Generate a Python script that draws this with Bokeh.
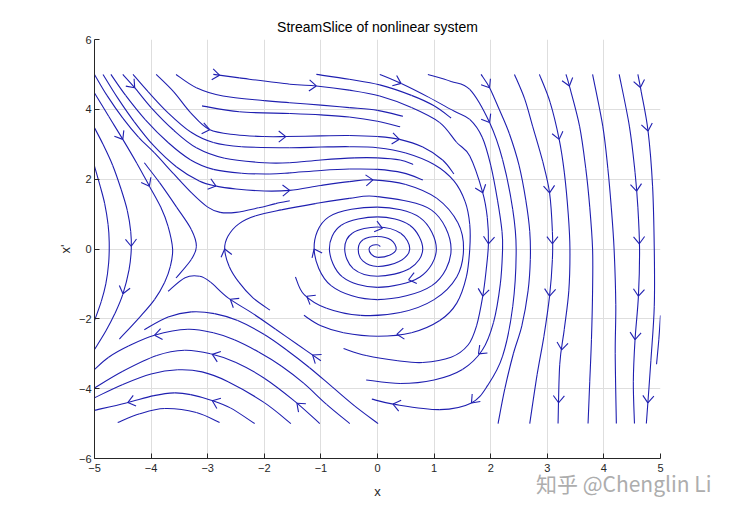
import math
from bokeh.plotting import figure
from bokeh.models import Range1d, FixedTicker, Div
from bokeh.layouts import column
from bokeh.embed import file_html
from bokeh.resources import INLINE

# ---------------- data: streamlines (flow order) ----------------
F1 = [(-5.0,2.37),(-4.90,1.8),(-4.82,1.3),(-4.76,0.7),(-4.74,0.2),(-4.75,-0.4),(-4.80,-1.0),(-4.88,-1.5),(-5.0,-2.05)]
F2 = [(-5.0,3.47),(-4.85,3.0),(-4.68,2.4),(-4.53,1.71),(-4.42,1.1),(-4.36,0.5),(-4.35,0.0),(-4.39,-0.6),(-4.5,-1.3),(-4.64,-1.85),(-4.8,-2.35),(-5.0,-2.88)]
F3 = [(-5.0,4.47),(-4.75,3.8),(-4.5,3.14),(-4.25,2.45),(-4.03,1.80),(-3.83,1.2),(-3.70,0.65),(-3.62,0.0),(-3.66,-0.5),(-3.76,-0.95),(-3.94,-1.45),(-4.2,-1.95),(-4.56,-2.58)]
SL = [(-4.12,2.47),(-3.85,1.9),(-3.55,1.2),(-3.29,0.56),(-3.20,0.08),(-3.29,-0.30),(-3.56,-0.83)]
UB = [(-5.0,5.0),(-4.78,4.4),(-4.5,3.75),(-4.22,3.2),(-3.94,2.75),(-3.6,2.15),(-3.28,1.6),(-3.0,1.2),(-2.78,1.05),(-2.5,1.05),(-2.1,1.18),(-1.8,1.3),(-1.55,1.38)]
UA = [(-4.85,5.0),(-4.6,4.35),(-4.3,3.65),(-3.95,2.95),(-3.55,2.35),(-3.15,1.95),(-2.85,1.8),(-2.5,1.72),(-2.0,1.66),(-1.55,1.68),(-1.0,1.82),(-0.5,1.93),(-0.08,1.98),(0.5,1.85),(1.05,1.45),(1.42,0.75),(1.52,0.0),(1.4,-0.8),(1.0,-1.45),(0.4,-1.82),(-0.3,-1.9),(-0.9,-1.7),(-1.3,-1.3),(-1.45,-0.8)]
T3 = [(-4.71,5.0),(-4.45,4.4),(-4.1,3.7),(-3.7,3.05),(-3.3,2.55),(-2.9,2.28),(-2.4,2.17),(-1.9,2.15),(-1.55,2.18),(-1.0,2.25),(-0.5,2.29),(0.0,2.28),(0.45,2.18),(0.8,1.98)]
T4 = [(-4.5,5.0),(-4.29,4.62),(-4.0,4.05),(-3.6,3.4),(-3.2,2.9),(-2.7,2.6),(-2.0,2.47),(-1.55,2.47),(-1.0,2.55),(-0.4,2.61),(0.0,2.61),(0.4,2.55),(0.63,2.42)]
T5 = [(-4.32,5.0),(-4.05,4.5),(-3.7,3.9),(-3.3,3.35),(-2.9,3.05),(-2.4,2.93),(-1.55,2.90),(-1.0,2.92),(-0.5,2.93),(0.0,2.9),(0.5,2.75),(1.0,2.42),(1.35,1.95),(1.55,1.35),(1.63,0.7),(1.63,0.0),(1.57,-0.8),(1.4,-1.55),(1.1,-2.05),(0.6,-2.4),(0.0,-2.5),(-0.6,-2.4),(-1.0,-2.2),(-1.3,-1.9)]
T6 = [(-3.91,5.0),(-3.6,4.5),(-3.3,3.9),(-2.97,3.42),(-2.5,3.27),(-2.0,3.22),(-1.62,3.22),(-1.0,3.24),(-0.5,3.25),(0.0,3.22),(0.39,3.14),(0.8,2.92),(1.15,2.55),(1.35,2.15)]
TX = [(-3.1,4.1),(-2.44,3.93),(-1.55,3.88),(-1.0,3.84),(-0.5,3.78),(0.0,3.66),(0.4,3.5)]
T7 = [(-3.56,5.0),(-3.2,4.62),(-2.73,4.38),(-2.0,4.25),(-1.55,4.19),(-1.0,4.12),(-0.5,4.05),(0.0,3.97),(0.45,3.8)]
P2 = [(-2.9,5.0),(-2.44,4.9),(-1.55,4.72),(-1.08,4.67),(-0.5,4.55),(0.04,4.38),(0.6,4.05),(1.1,3.62),(1.4,3.05),(1.63,2.66),(1.86,1.61),(1.94,0.9),(1.96,0.15),(1.92,-0.6),(1.86,-1.35),(1.75,-2.2),(1.6,-2.75),(1.3,-3.1),(0.8,-3.25),(0.36,-3.2),(-0.2,-3.05),(-0.6,-2.85)]
P1 = [(-1.08,5.0),(-0.5,4.86),(0.04,4.7),(0.6,4.4),(1.0,4.1),(1.3,3.75)]
P3 = [(0.04,5.0),(0.42,4.74),(0.9,4.35),(1.35,3.95),(1.63,3.71),(1.85,3.2),(2.0,2.4),(2.12,1.4),(2.2,0.5),(2.21,0.0),(2.17,-1.0),(2.05,-2.1),(1.85,-2.9),(1.5,-3.45),(1.0,-3.75),(0.4,-3.85),(-0.2,-3.75)]
P4 = [(0.89,5.0),(1.3,4.8),(1.63,4.57),(1.98,3.62),(2.21,2.56),(2.39,1.13),(2.45,0.0),(2.39,-1.64),(2.21,-3.07),(1.95,-3.9),(1.66,-4.41),(1.1,-4.6),(0.3,-4.45),(-0.1,-4.3)]
V2 = [(1.83,5.0),(1.98,4.62),(2.15,4.0),(2.33,3.3),(2.5,2.4),(2.62,1.4),(2.69,0.5),(2.70,-0.3),(2.66,-1.2),(2.55,-2.2),(2.4,-3.0),(2.25,-4.0),(2.13,-5.0)]
V3 = [(2.42,5.0),(2.6,4.3),(2.74,3.52),(2.92,2.5),(3.04,1.61),(3.09,0.5),(3.09,-0.3),(3.04,-1.35),(2.94,-2.5),(2.82,-3.6),(2.69,-5.0)]
V4 = [(2.86,5.0),(3.05,4.2),(3.21,3.14),(3.30,2.2),(3.37,1.0),(3.40,0.0),(3.38,-1.2),(3.30,-2.3),(3.22,-3.3),(3.19,-5.0)]
V5 = [(3.33,5.0),(3.39,4.67),(3.57,3.52),(3.68,2.3),(3.75,1.2),(3.80,0.0),(3.80,-1.2),(3.78,-2.6),(3.75,-3.8),(3.72,-5.0)]
V6 = [(3.80,5.0),(3.98,3.52),(4.07,2.3),(4.13,1.2),(4.18,0.0),(4.21,-1.6),(4.2,-3.0),(4.22,-5.0)]
V7 = [(4.27,5.0),(4.45,3.52),(4.55,2.2),(4.60,1.2),(4.63,0.0),(4.61,-1.35),(4.55,-2.6),(4.52,-3.8),(4.54,-5.0)]
V8 = [(4.60,5.0),(4.66,4.5),(4.78,3.38),(4.86,1.8),(4.89,0.0),(4.89,-1.64),(4.83,-3.2),(4.75,-5.0)]
V9 = [(5.0,-1.9),(4.97,-2.6),(4.93,-3.3)]
SPIRAL = [(-1.9,-1.75),(-2.2,-1.4),(-2.45,-0.95),(-2.62,-0.5),(-2.70,0.0),(-2.64,0.37),(-2.45,0.72),(-2.15,0.95),(-1.7,1.12),(-1.1,1.3),(-0.5,1.45),(0.0,1.5),
          (0.95,1.12),(1.30,0.0),(0.96,-1.05),(0.0,-1.45),(-0.82,-1.05),(-1.12,0.0),(-0.86,0.92),
          (0.0,1.2),(0.75,0.9),(1.04,0.0),(0.75,-0.8),(0.0,-1.1),(-0.62,-0.8),(-0.85,0.0),(-0.64,0.68),
          (0.0,0.92),(0.57,0.68),(0.80,0.0),(0.57,-0.56),(0.0,-0.78),(-0.43,-0.56),(-0.58,0.0),(-0.44,0.46),
          (0.0,0.63),(0.41,0.45),(0.57,0.0),(0.38,-0.36),(0.0,-0.5),(-0.26,-0.34),(-0.34,0.0),(-0.25,0.27),
          (0.0,0.36),(0.24,0.26),(0.33,0.0),(0.22,-0.17),(0.0,-0.24),(-0.11,-0.15),(-0.15,0.0),(-0.1,0.1),(0.0,0.12),(0.05,0.07)]
H1 = [(-1.0,-3.2),(-1.4,-2.75),(-1.8,-2.3),(-2.2,-1.85),(-2.64,-1.4),(-2.95,-0.95),(-3.14,-0.78),(-3.4,-0.82),(-3.70,-1.21)]
H2 = [(0.01,-5.0),(-0.4,-4.5),(-0.8,-3.95),(-1.2,-3.4),(-1.6,-2.9),(-2.0,-2.45),(-2.47,-2.05),(-2.88,-1.85),(-3.29,-1.80),(-3.7,-1.95),(-4.12,-2.31)]
H3 = [(-0.49,-5.0),(-0.9,-4.45),(-1.3,-3.85),(-1.7,-3.35),(-2.1,-2.95),(-2.53,-2.6),(-2.9,-2.4),(-3.35,-2.3),(-3.94,-2.47),(-4.4,-2.78),(-4.75,-3.1),(-5.0,-3.45)]
H4 = [(-1.02,-5.0),(-1.47,-4.35),(-2.0,-3.7),(-2.5,-3.25),(-2.95,-3.0),(-3.41,-2.9),(-3.9,-3.05),(-4.5,-3.5),(-5.0,-3.98)]
H5 = [(-1.53,-5.0),(-2.0,-4.4),(-2.64,-3.8),(-3.1,-3.52),(-3.53,-3.46),(-4.0,-3.58),(-4.5,-3.88),(-5.0,-4.26)]
H6 = [(-2.17,-5.0),(-2.6,-4.55),(-2.94,-4.33),(-3.3,-4.17),(-3.59,-4.12),(-3.95,-4.2),(-4.44,-4.41),(-5.0,-4.62)]
H7 = [(-2.79,-4.97),(-3.2,-4.68),(-3.76,-4.57),(-4.2,-4.72),(-4.59,-4.97)]

STREAMLINES = [F1, F2, F3, SL, UB, UA, T3, T4, T5, T6, TX, T7, P2, P1, P3, P4,
               V2, V3, V4, V5, V6, V7, V8, V9, SPIRAL, H1, H2, H3, H4, H5, H6, H7]

ARROW_X = [-4.29,-4.50,-2.79,-2.85,-2.97,-1.62,-4.03,-4.34,-1.08,0.42,0.39,-0.08,0.09,-1.55,
           1.98,1.98,1.86,1.96,3.21,3.07,3.09,3.39,4.63,4.78,4.60,4.63,
           -4.5,-2.70,-2.64,-3.94,-2.91,-4.41,-2.91,
           -1.38,-1.32,-1.14,-1.47,0.57,0.36,0.30,1.71,1.66,
           1.86,3.04,3.22,3.33,4.60,4.51,4.81]
ARROW_Y = [4.62,3.14,5.0,1.82,3.38,3.22,1.80,0.08,4.69,4.76,3.19,2.0,0.61,1.66,
           4.62,3.62,1.61,0.15,3.14,1.61,0.15,4.67,4.62,3.38,1.66,0.15,
           -1.28,0.0,-1.54,-2.45,-2.98,-4.41,-4.31,
           0.0,-1.54,-3.02,-4.50,-1.02,-2.74,-4.26,-2.88,-4.41,
           -1.35,-1.35,-2.88,-4.41,-1.35,-2.59,-4.41]

X_TICKS = [-5, -4, -3, -2, -1, 0, 1, 2, 3, 4, 5]
Y_TICKS = [-6, -4, -2, 0, 2, 4, 6]
WATERMARK = "知乎 @Chenglin Li"

# ---------------- figure ----------------
W, H = 715, 505
BL, BT = 94, 39
FW, FH = 566, 419
BR, BB = W - BL - FW, H - BT - FH
SX, SY = FW / 10.0, FH / 12.0   # px per data unit

p = figure(width=W, height=H, x_range=Range1d(-5, 5), y_range=Range1d(-6, 6),
           output_backend="svg", toolbar_location=None,
           min_border_left=BL, min_border_right=BR, min_border_top=BT, min_border_bottom=BB,
           title="StreamSlice of nonlinear system")
p.outline_line_color = None
p.background_fill_color = "white"
p.border_fill_color = "white"
p.title.align = "center"
p.title.text_font = "Liberation Sans"
p.title.text_font_size = "14px"
p.title.text_font_style = "normal"
p.title.text_color = "#000000"

for ax in (p.xaxis, p.yaxis):
    ax.major_label_text_font = "Liberation Sans"
    ax.major_label_text_font_size = "11px"
    ax.major_label_text_color = "#262626"
    ax.axis_line_color = "#262626"
    ax.major_tick_line_color = "#262626"
    ax.major_tick_in = 5
    ax.major_tick_out = 0
    ax.minor_tick_line_color = None
    ax.axis_label_text_font = "Liberation Sans"
    ax.axis_label_text_font_size = "13px"
    ax.axis_label_text_font_style = "normal"
    ax.axis_label_text_color = "#262626"
p.xaxis.ticker = FixedTicker(ticks=X_TICKS)
p.yaxis.ticker = FixedTicker(ticks=Y_TICKS)
p.xaxis.axis_label = "x"
p.yaxis.axis_label = "x'"
p.xaxis.axis_label_standoff = 9
p.yaxis.major_label_standoff = 3
p.yaxis.axis_label_standoff = 3
p.xgrid.grid_line_color = "#dedede"
p.ygrid.grid_line_color = "#dedede"

LINE_COLOR = "#1f1fb0"

# smooth rendering: Catmull-Rom segments drawn with Bokeh's bezier glyph
bx0, by0, bx1, by1, bcx0, bcy0, bcx1, bcy1 = [], [], [], [], [], [], [], []
for c in STREAMLINES:
    n = len(c)
    for i in range(n - 1):
        pm = c[i - 1] if i > 0 else c[i]
        p0, p1 = c[i], c[i + 1]
        pp = c[i + 2] if i + 2 < n else c[i + 1]
        bx0.append(p0[0]); by0.append(p0[1]); bx1.append(p1[0]); by1.append(p1[1])
        bcx0.append(p0[0] + (p1[0] - pm[0]) / 6.0); bcy0.append(p0[1] + (p1[1] - pm[1]) / 6.0)
        bcx1.append(p1[0] - (pp[0] - p0[0]) / 6.0); bcy1.append(p1[1] - (pp[1] - p0[1]) / 6.0)
p.bezier(x0=bx0, y0=by0, x1=bx1, y1=by1, cx0=bcx0, cy0=bcy0, cx1=bcx1, cy1=bcy1,
         line_color=LINE_COLOR, line_width=1.1)

# chevron arrows: snap each arrow point to the nearest streamline segment
ax_list, ay_list = [], []
for axp, ayp in zip(ARROW_X, ARROW_Y):
    best = None
    for c in STREAMLINES:
        for (x0, y0), (x1, y1) in zip(c[:-1], c[1:]):
            dx, dy = (x1 - x0) * SX, (y1 - y0) * SY
            L2 = dx * dx + dy * dy
            if L2 == 0:
                continue
            t = ((axp - x0) * SX * dx + (ayp - y0) * SY * dy) / L2
            t = max(0.0, min(1.0, t))
            qx, qy = x0 + t * (x1 - x0), y0 + t * (y1 - y0)
            d = ((qx - axp) * SX) ** 2 + ((qy - ayp) * SY) ** 2
            if best is None or d < best[0]:
                best = (d, qx, qy, dx, dy)
    _, qx, qy, dx, dy = best
    n = math.hypot(dx, dy)
    ux, uy = dx / n, dy / n
    arm, ang = 9.0, math.radians(38)
    for s in (1, -1):
        ca, sa = math.cos(s * ang), math.sin(s * ang)
        bx, by = -(ux * ca - uy * sa), -(ux * sa + uy * ca)
        ax_list.append([qx + bx * arm / SX, qx])
        ay_list.append([qy + by * arm / SY, qy])
p.multi_line(ax_list, ay_list, line_color=LINE_COLOR, line_width=1.1)

wm = Div(text=WATERMARK, width=230, height=28, margin=(-35, 0, 0, 536),
         styles={"font-family": "'Noto Sans CJK SC', sans-serif", "font-size": "21px",
                 "color": "#adadad", "white-space": "nowrap", "line-height": "26px"})

open("out.html", "w").write(file_html(column(p, wm), INLINE))
